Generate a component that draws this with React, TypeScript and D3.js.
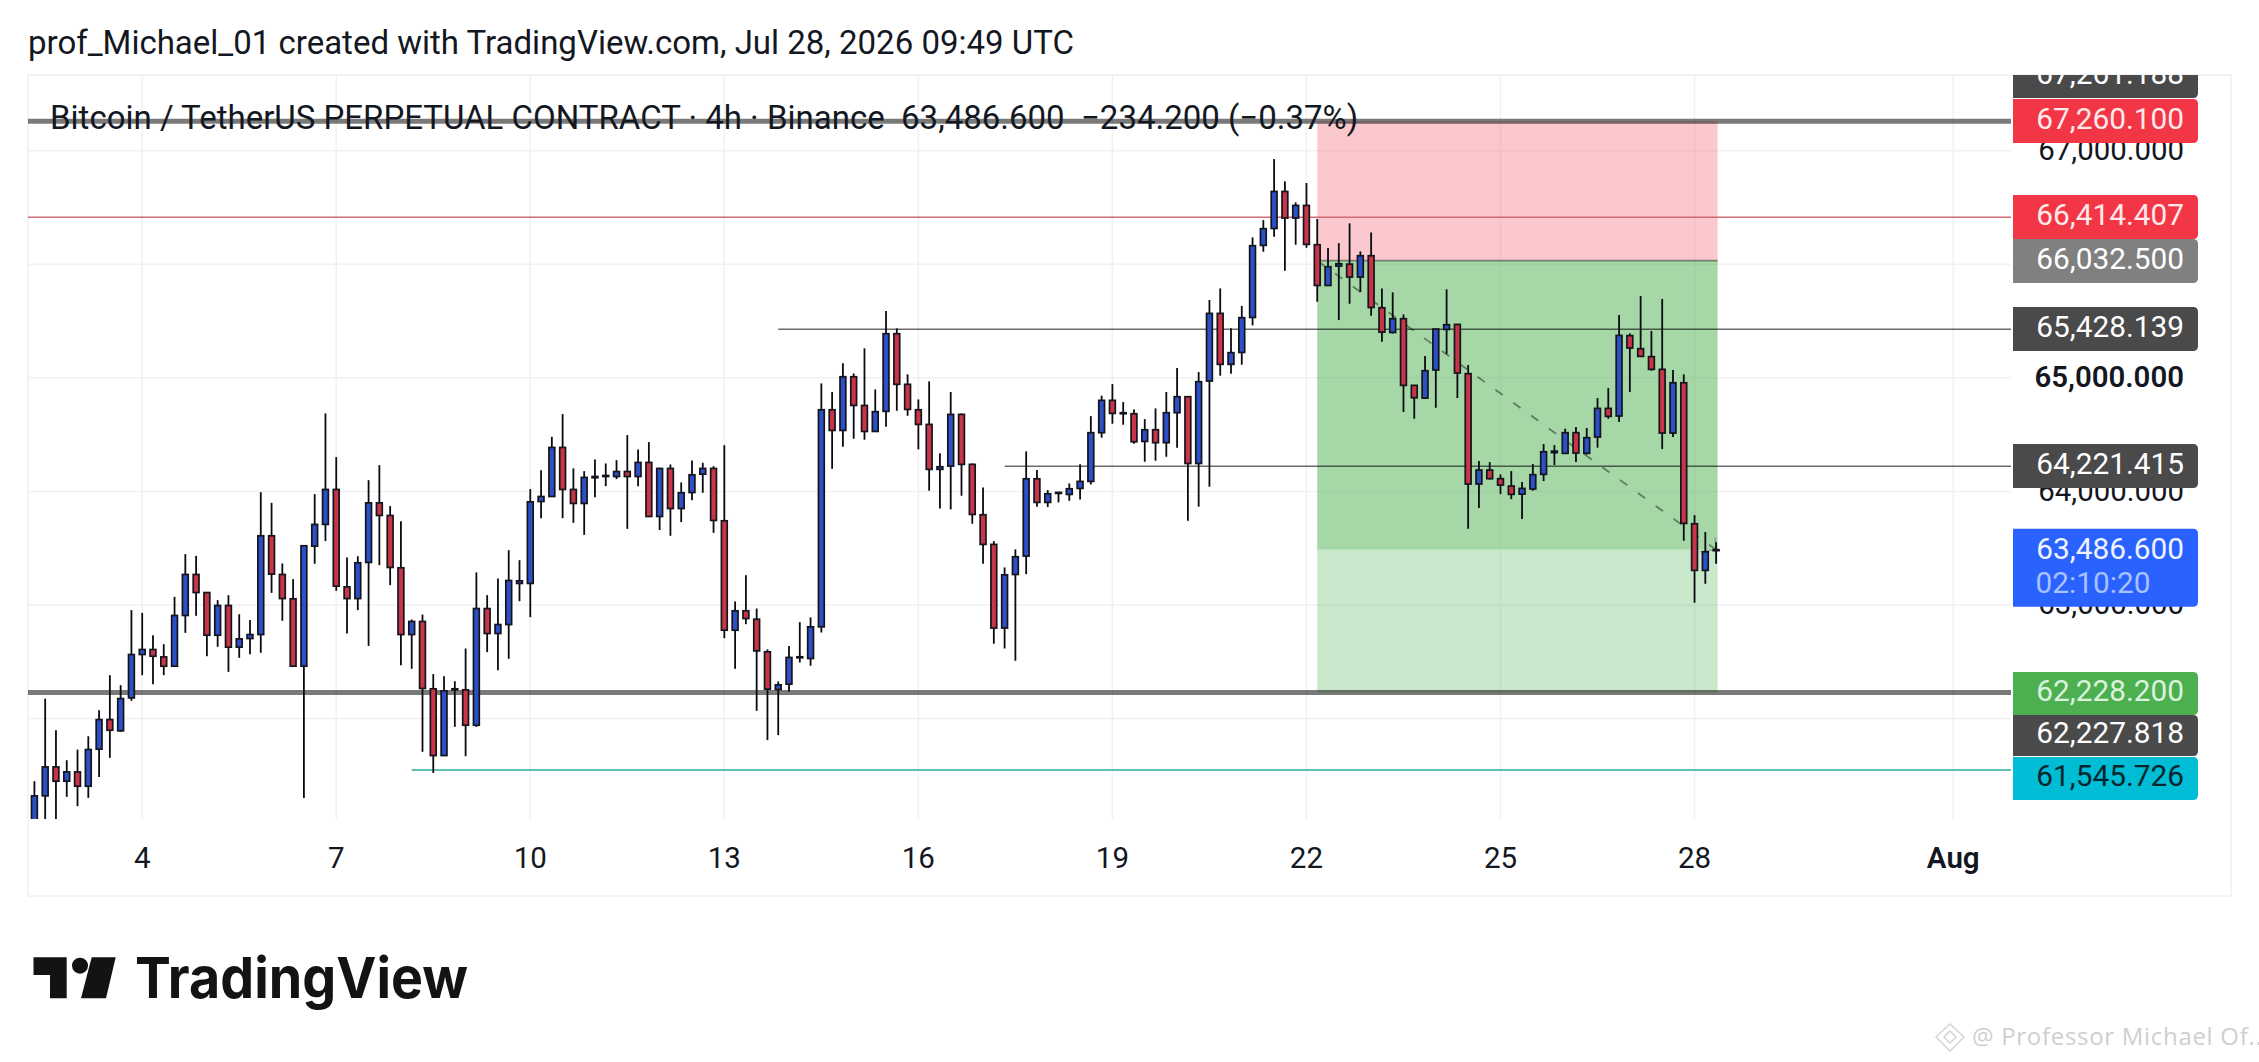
import React from "react";
import * as d3 from "d3";

const opens = [60986,61318,61573,61447,61529,61403,61729,61990,61891,62181,
62563,62607,62542,62460,62907,63268,63109,62733,62995,62628,
62704,62739,63609,63268,63054,62460,63518,63709,64017,63159,
63056,63374,63899,63788,63327,62739,62854,62261,61673,62261,
62252,61940,62968,62748,62827,63189,63189,63911,63955,64387,
64017,63894,64120,64140,64131,64175,64131,64255,63779,64202,
63849,63990,64152,64202,63741,62777,62948,62874,62587,62255,
62302,62534,62528,62807,64719,64537,65010,64757,64528,64705,
65389,64943,64719,64590,64194,64223,64678,64238,63794,63533,
62796,63268,63430,64111,63903,63985,63973,64026,64088,64517,
64802,64687,64684,64440,64543,64429,64693,64834,64246,64972,
65568,65119,65224,65532,66167,66316,66642,66408,66519,66173,
65814,65985,66002,65888,66076,65618,65400,65521,64934,64822,
65069,65427,65471,65037,64065,64188,64112,64047,63976,64021,
64150,64341,64335,64517,64335,64479,64731,64664,65372,65257,
65187,65075,64514,64957,63715,63304,63480];

const closes = [61318,61573,61447,61529,61403,61726,61990,61896,62175,62563,
62607,62548,62460,62907,63268,63109,62733,62995,62628,62701,
62739,63609,63271,63056,62460,63521,63709,64017,63165,63056,
63371,63899,63788,63330,62739,62854,62264,61673,62243,62252,
61940,62968,62748,62827,63215,63212,63908,63955,64387,64017,
63894,64123,64131,64131,64175,64131,64255,63779,64202,63849,
63988,64146,64202,63744,62777,62948,62880,62595,62258,62296,
62537,62543,62807,64719,64537,65010,64757,64528,64702,65389,
64943,64722,64590,64194,64217,64678,64238,63797,63533,62796,
63265,63424,64111,63903,63979,63991,64023,64088,64517,64802,
64687,64693,64437,64543,64429,64693,64834,64246,64966,65568,
65119,65222,65530,66164,66314,66642,66408,66519,66176,65814,
65979,66005,65888,66076,65620,65403,65521,64934,64825,65063,
65430,65468,65043,64065,64188,64112,64056,63974,64026,64147,
64349,64355,64517,64338,64473,64731,64661,65374,65263,65189,
65075,64514,64957,63718,63304,63468,63486.6];

const highs = [61447,62175,61896,61632,61726,61843,62073,62381,62293,62954,
62930,62733,62654,63071,63447,63432,63109,63042,63086,62918,
62866,63993,63899,63365,63227,63521,63976,64687,64302,63418,
63429,64099,64231,63870,63738,62871,62915,62390,62372,62328,
62616,63286,63086,63233,63482,63394,64020,64187,64481,64681,
64202,64178,64281,64246,64275,64496,64369,64434,64208,64237,
64079,64272,64252,64222,64407,63030,63262,62968,62608,62326,
62637,62848,62890,64951,64875,65128,65039,65260,64898,65589,
65436,65031,64810,64969,64335,64875,64687,64246,64035,63562,
63330,63489,64352,64188,64011,63997,64070,64238,64663,64843,
64945,64787,64722,64637,64731,64875,65086,64834,65051,65686,
65788,65436,65633,66237,66390,66927,66731,66546,66716,66399,
66143,66187,66361,66114,66281,65788,65753,65559,64934,65192,
65430,65780,65471,65113,64267,64258,64150,64179,64082,64241,
64417,64408,64552,64567,64558,64822,64910,65554,65392,65721,
65413,65695,65069,65031,63791,63642,63551];

const lows = [60868,60986,61112,61309,61227,61300,61485,61653,61882,62155,
62381,62302,62381,62454,62754,62904,62548,62631,62410,62534,
62566,62578,63106,62860,62454,61300,63362,63562,63124,62748,
62954,62639,63350,63174,62469,62437,61706,61520,61673,61926,
61667,61926,62584,62425,62525,63033,62892,63764,63955,63764,
63723,63617,63949,64046,64108,63670,64046,63779,63659,63609,
63729,63923,63988,63635,62707,62437,62830,62067,61809,61853,
62235,62493,62464,62757,64199,64393,64464,64455,64528,64570,
64710,64666,64370,64006,63850,63841,63962,63715,63362,62658,
62616,62508,63271,63865,63862,63903,63917,63929,64061,64473,
64596,64587,64420,64261,64270,64305,64385,63741,63865,64041,
65019,65036,65116,65462,66111,66243,65943,66173,66146,65670,
65814,65509,65653,65755,65547,65318,65391,64699,64640,64814,
64737,65210,64822,63671,63853,64106,63976,63932,63756,64006,
64091,64232,64329,64258,64326,64385,64640,64611,64875,65189,
65063,64373,64479,63565,63019,63186,63363];

const xTickBars = [10, 28, 46, 64, 82, 100, 118, 136, 154, 178];
const xTickLabels = ["4", "7", "10", "13", "16", "19", "22", "25", "28", "Aug"];
const yTicks = [67000, 66000, 65000, 64000, 63000, 62000];

const stopPrice = 67260.1;
const entryPrice = 66032.5;
const lastPrice = 63486.6;
const targetPrice = 62228.2;
const positionStartBar = 119;
const positionEndBar = 156;

const thickLevels = [67260.1, 62228.2];
const redLevel = 66414.407;
const rayLevels = [65428.139, 64221.415];
const rayStartBars = [69, 90];
const tealLevel = 61545.726;
const tealStartBar = 35;

const titleText = "prof_Michael_01 created with TradingView.com, Jul 28, 2026 09:49 UTC";
const legendText = "Bitcoin / TetherUS PERPETUAL CONTRACT · 4h · Binance  63,486.600  −234.200 (−0.37%)";

const priceTags = [
  { text: "67,261.188", top: 54, h: 44, fill: "#4a4a4a", color: "#ffffff" },
  { text: "67,260.100", top: 99, h: 44, fill: "#f23645", color: "#ffe9eb" },
  { text: "66,414.407", top: 195, h: 44, fill: "#f23645", color: "#ffe9eb" },
  { text: "66,032.500", top: 239, h: 44, fill: "#808080", color: "#ffffff" },
  { text: "65,428.139", top: 307, h: 44, fill: "#4a4a4a", color: "#ffffff" },
  { text: "64,221.415", top: 444, h: 44, fill: "#4a4a4a", color: "#ffffff" },
  { text: "62,228.200", top: 672, h: 43, fill: "#4caf50", color: "#dcf3dd" },
  { text: "62,227.818", top: 715, h: 41, fill: "#4a4a4a", color: "#ffffff" },
  { text: "61,545.726", top: 757, h: 43, fill: "#00bcd4", color: "#06262e" },
];

const PANE = { left: 28, top: 75, right: 2231, bottom: 896, plotRight: 2011, plotBottom: 819 };
const FONT = "Roboto, sans-serif";

function tagPath(x0: number, x1: number, y0: number, y1: number, r: number) {
  return `M${x0},${y0}H${x1 - r}Q${x1},${y0} ${x1},${y0 + r}V${y1 - r}Q${x1},${y1} ${x1 - r},${y1}H${x0}Z`;
}

export default function App() {
  const x = d3.scaleLinear().domain([0, 156]).range([34.4, 1716.1]);
  const y = d3.scaleLinear().domain([61545.726, 67260.1]).range([770, 121.3]);
  const tagX0 = 2013;
  const tagX1 = 2198;
  const boxL = x(positionStartBar);
  const boxR = x(positionEndBar) + 1.5;

  return (
    <svg width={2259} height={1062} viewBox="0 0 2259 1062" style={{ position: "absolute", left: 0, top: 0, display: "block", background: "#fff" }}>
      <defs>
        <clipPath id="plot">
          <rect x={PANE.left} y={PANE.top} width={PANE.plotRight - PANE.left} height={PANE.plotBottom - PANE.top} />
        </clipPath>
        <clipPath id="scale">
          <rect x={PANE.plotRight} y={PANE.top} width={PANE.right - PANE.plotRight} height={PANE.bottom - PANE.top} />
        </clipPath>
      </defs>
      <rect x={0} y={0} width={2259} height={1062} fill="#fff" />

      <text x={28} y={54} fontFamily={FONT} fontSize={33} fill="#131722">{titleText}</text>

      <rect x={PANE.left} y={PANE.top} width={PANE.right - PANE.left} height={PANE.bottom - PANE.top} fill="#fff" stroke="#f0f0f2" strokeWidth={1.5} />

      <g stroke="#f1f1f3" strokeWidth={1.5}>
        {xTickBars.map((b) => (
          <line key={b} x1={x(b)} x2={x(b)} y1={PANE.top} y2={PANE.plotBottom} />
        ))}
        {yTicks.map((t) => (
          <line key={t} x1={PANE.left} x2={PANE.plotRight} y1={y(t)} y2={y(t)} />
        ))}
      </g>

      <g clipPath="url(#plot)">
        <rect x={boxL} y={y(stopPrice)} width={boxR - boxL} height={y(entryPrice) - y(stopPrice)} fill="#f23645" fillOpacity={0.27} />
        <rect x={boxL} y={y(entryPrice)} width={boxR - boxL} height={y(lastPrice) - y(entryPrice)} fill="#4caf50" fillOpacity={0.5} />
        <rect x={boxL} y={y(lastPrice)} width={boxR - boxL} height={y(targetPrice) - y(lastPrice)} fill="#4caf50" fillOpacity={0.3} />
        <line x1={boxL} x2={boxR} y1={y(entryPrice)} y2={y(entryPrice)} stroke="#000" strokeOpacity={0.42} strokeWidth={1.6} />

        {thickLevels.map((p) => (
          <line key={p} x1={PANE.left} x2={PANE.plotRight} y1={y(p)} y2={y(p)} stroke="#000" strokeOpacity={0.52} strokeWidth={5} />
        ))}
        <line x1={PANE.left} x2={PANE.plotRight} y1={y(redLevel)} y2={y(redLevel)} stroke="#cf6b72" strokeWidth={1.6} />
        {rayLevels.map((p, k) => (
          <line key={p} x1={x(rayStartBars[k])} x2={PANE.plotRight} y1={y(p)} y2={y(p)} stroke="#000" strokeOpacity={0.58} strokeWidth={1.7} />
        ))}
        <line x1={x(tealStartBar)} x2={PANE.plotRight} y1={y(tealLevel)} y2={y(tealLevel)} stroke="#5fbfb8" strokeWidth={1.8} />

        <line x1={x(positionStartBar)} y1={y(entryPrice)} x2={x(positionEndBar)} y2={y(lastPrice)} stroke="#000" strokeOpacity={0.42} strokeWidth={1.8} strokeDasharray="9 13" />
        <polyline
          points={`${x(positionEndBar) - 16},${y(lastPrice) + 2} ${x(positionEndBar)},${y(lastPrice)} ${x(positionEndBar) - 1},${y(lastPrice) - 12}`}
          fill="none" stroke="#000" strokeOpacity={0.28} strokeWidth={1.4}
        />

        {opens.map((o, i) => {
          const c = closes[i];
          const up = c >= o;
          const cx = x(i);
          const top = y(Math.max(o, c));
          const bot = y(Math.min(o, c));
          const h = bot - top;
          return (
            <g key={i}>
              <line x1={cx} x2={cx} y1={y(highs[i])} y2={y(lows[i])} stroke="#0a0a12" strokeWidth={1.8} />
              <rect x={cx - 2.9} y={top} width={5.8} height={Math.max(h, 1)} fill={up ? "#2b50c8" : "#c83547"} stroke="#14141c" strokeWidth={1.7} />
            </g>
          );
        })}
      </g>

      <text x={50} y={129} fontFamily={FONT} fontSize={33} fill="#131722" xmlSpace="preserve" style={{ whiteSpace: "pre" }}>{legendText}</text>

      <g fontFamily={FONT} fontSize={29.4} fill="#131722" textAnchor="end">
        {yTicks.map((t) => (
          <text key={t} x={2184} y={y(t) + 9.5} fontWeight={t === 65000 ? 600 : 400}>
            {d3.format(",.3f")(t)}
          </text>
        ))}
      </g>

      <g clipPath="url(#scale)" fontFamily={FONT} fontSize={29.8} textAnchor="end">
        {priceTags.map((t) => (
          <g key={t.text}>
            <path d={tagPath(tagX0, tagX1, t.top, t.top + t.h, 5)} fill={t.fill} />
            <text x={2184} y={t.top + t.h / 2 + 7.8} fill={t.color}>{t.text}</text>
          </g>
        ))}
        <path d={tagPath(tagX0, tagX1, y(lastPrice) - 21, y(lastPrice) + 57, 5)} fill="#2962ff" />
        <text x={2184} y={y(lastPrice) + 9} fill="#eef3ff">{d3.format(",.3f")(lastPrice)}</text>
        <text x={2035.5} y={y(lastPrice) + 43.5} fill="#a9c1ff" textAnchor="start">02:10:20</text>
      </g>

      <g fontFamily={FONT} fontSize={29.5} fill="#131722" textAnchor="middle">
        {xTickBars.map((b, i) => (
          <text key={b} x={x(b)} y={868.3} fontWeight={xTickLabels[i] === "Aug" ? 600 : 400}>{xTickLabels[i]}</text>
        ))}
      </g>

      <g fill="#131313">
        <path d="M33.5,957.3H66.7V998.3H50V975H33.5Z" />
        <circle cx={80} cy={965.7} r={8} />
        <path d="M91.7,957.3H115.7L106,998.3H81Z" />
      </g>
      <text x={135} y={998} fontFamily="Inter, sans-serif" fontSize={57} fontWeight={700} fill="#131313" textLength={333} lengthAdjust="spacingAndGlyphs">TradingView</text>

      <g fill="none" stroke="#d6d6d6" strokeWidth={1.6}>
        <path d="M1950,1024L1964,1037L1950,1051L1936,1037Z" />
        <path d="M1950,1031L1956,1037L1950,1043L1944,1037Z" />
      </g>
      <text x={1972} y={1045} fontFamily="'Open Sans', sans-serif" fontSize={24} letterSpacing={0.7} fill="#cfcfcf">@ Professor Michael Of...</text>
    </svg>
  );
}
